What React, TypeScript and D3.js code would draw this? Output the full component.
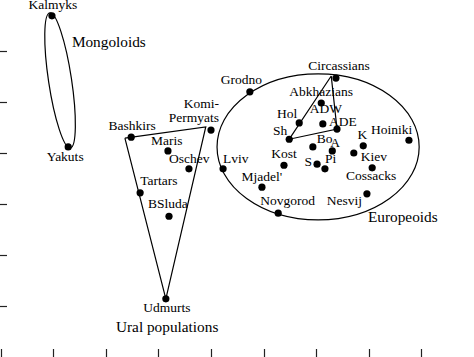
import React from "react";
import * as d3 from "d3";

// ---- data (axis units) ----
const names = [
  "Kalmyks", "Yakuts", "Bashkirs", "Komi-Permyats", "Maris", "Oschev", "Tartars", "BSluda", "Udmurts",
  "Lviv", "Grodno", "Circassians", "Abkhazians", "Hol", "ADW", "ADE", "Sh", "Bo", "A", "Kost", "S", "Pi",
  "Mjadel'", "Novgorod", "K", "Kiev", "Hoiniki", "Cossacks", "Nesvij",
];
const xValues = [
  0.97, 1.28, 2.48, 4.0, 3.18, 3.58, 2.65, 3.2, 3.14,
  4.23, 4.74, 6.38, 6.1, 5.68, 6.13, 6.4, 5.49, 5.94, 6.31, 5.39, 6.02, 6.17,
  4.97, 5.28, 6.9, 6.72, 7.77, 7.07, 6.97,
];
const yValues = [
  5.69, 3.12, 3.31, 3.45, 3.04, 2.69, 2.22, 1.76, 0.14,
  2.69, 4.2, 4.47, 3.98, 3.59, 3.57, 3.47, 3.27, 3.12, 3.04, 2.76, 2.78, 2.69,
  2.33, 1.82, 3.14, 3.0, 3.25, 2.71, 2.2,
];
const xTicks = [0, 1, 2, 3, 4, 5, 6, 7, 8];
const yTicks = [0, 1, 2, 3, 4, 5];

// group outlines
const uralPolygon: [number, number][] = [[2.36, 3.29], [3.9, 3.51], [3.14, 0.14]];
const caucasusPolygon: [number, number][] = [[6.29, 4.51], [5.49, 3.27], [6.4, 3.47]];
const groupNames = ["Mongoloids", "Ural populations", "Europeoids"];
const groupLabelX = [1.35, 2.19, 6.99];
const groupLabelY = [5.08, -0.51, 1.65];

// ---- layout / style ----
const W = 474, H = 357;
const x = d3.scaleLinear().domain([0, 9]).range([1, 473.5]);
const y = d3.scaleLinear().domain([-1, 6]).range([357, 0]);

type LP = { dx: number; dy: number; a: "start" | "middle" | "end" };
const labelPos: Record<string, LP> = {
  Kalmyks: { dx: 1, dy: -7, a: "middle" },
  Yakuts: { dx: -3, dy: 14, a: "middle" },
  Bashkirs: { dx: 1, dy: -7, a: "middle" },
  Maris: { dx: -17, dy: -6, a: "start" },
  Oschev: { dx: -20, dy: -6, a: "start" },
  Tartars: { dx: 0, dy: -8, a: "start" },
  BSluda: { dx: -21, dy: -8, a: "start" },
  Udmurts: { dx: 1, dy: 13, a: "middle" },
  Lviv: { dx: 0, dy: -6, a: "start" },
  Grodno: { dx: -29, dy: -8, a: "start" },
  Circassians: { dx: 3, dy: -8, a: "middle" },
  Abkhazians: { dx: -32, dy: -7, a: "start" },
  Hol: { dx: -2, dy: -5, a: "end" },
  ADW: { dx: -13, dy: -11, a: "start" },
  ADE: { dx: -8, dy: -3, a: "start" },
  Sh: { dx: -2, dy: -4, a: "end" },
  Bo: { dx: 4, dy: -4, a: "start" },
  A: { dx: -2, dy: -4, a: "start" },
  Kost: { dx: 0, dy: -7, a: "middle" },
  S: { dx: -5, dy: 2, a: "end" },
  Pi: { dx: 0, dy: -6, a: "start" },
  "Mjadel'": { dx: 0, dy: -6, a: "middle" },
  Novgorod: { dx: -18, dy: -8, a: "start" },
  K: { dx: -1, dy: -7, a: "middle" },
  Kiev: { dx: 7, dy: 8, a: "start" },
  Hoiniki: { dx: -38, dy: -6, a: "start" },
  Cossacks: { dx: -1, dy: 12, a: "middle" },
  Nesvij: { dx: -5, dy: 11, a: "end" },
};

const FONT = '"Liberation Serif", "DejaVu Serif", "Times New Roman", serif';
const txt = { fontFamily: FONT };

export default function App() {
  const line = d3.line<[number, number]>().x((d) => x(d[0])).y((d) => y(d[1]));
  const closed = (p: [number, number][]) => line([...p, p[0]]) || "";
  // Europeoid ellipse
  const eCx = x(6.04), eCy = y(3.12);
  const eRx = x(1.925) - x(0), eRy = y(0) - y(1.43);
  // Mongoloid ellipse (through Kalmyks / Yakuts)
  const mTop: [number, number] = [x(0.93), y(5.75)];
  const mBot: [number, number] = [x(1.32), y(3.1)];
  const mCx = (mTop[0] + mBot[0]) / 2, mCy = (mTop[1] + mBot[1]) / 2;
  const mRy = Math.hypot(mBot[0] - mTop[0], mBot[1] - mTop[1]) / 2;
  const mAng = (-Math.atan2(mBot[0] - mTop[0], mBot[1] - mTop[1]) * 180) / Math.PI;

  return (
    <svg width={W} height={H} style={{ position: "absolute", left: 0, top: 0, background: "#fff" }}>
      {/* ticks */}
      {yTicks.map((t) => (
        <line key={"yt" + t} x1={0} x2={7} y1={Math.round(y(t)) + 0.5} y2={Math.round(y(t)) + 0.5} stroke="#222" strokeWidth={1.2} />
      ))}
      {xTicks.map((t) => (
        <line key={"xt" + t} x1={Math.round(x(t)) + 0.5} x2={Math.round(x(t)) + 0.5} y1={349} y2={357} stroke="#222" strokeWidth={1.2} />
      ))}

      {/* outlines */}
      <ellipse cx={mCx} cy={mCy} rx={11.5} ry={mRy} transform={`rotate(${mAng} ${mCx} ${mCy})`} fill="none" stroke="#000" strokeWidth={1.2} />
      <ellipse cx={eCx} cy={eCy} rx={eRx} ry={eRy} fill="none" stroke="#000" strokeWidth={1.2} />
      <path d={closed(uralPolygon)} fill="none" stroke="#000" strokeWidth={1.2} />
      <path d={closed(caucasusPolygon)} fill="none" stroke="#000" strokeWidth={1.2} />

      {/* points */}
      {names.map((n, i) => (
        <circle key={"p" + n} cx={x(xValues[i])} cy={y(yValues[i])} r={3.6} fill="#000" />
      ))}

      {/* point labels */}
      {names.map((n, i) => {
        const px = x(xValues[i]), py = y(yValues[i]);
        if (n === "Komi-Permyats") {
          return (
            <text key={"l" + n} x={px + 8} y={py} textAnchor="end" fontSize={13.5} fill="#000" style={txt}>
              <tspan x={px + 8} dy={-22}>Komi-</tspan>
              <tspan x={px + 8} dy={14}>Permyats</tspan>
            </text>
          );
        }
        const lp = labelPos[n];
        return (
          <text key={"l" + n} x={px + lp.dx} y={py + lp.dy} textAnchor={lp.a} fontSize={13.5} fill="#000" style={txt}>
            {n}
          </text>
        );
      })}

      {/* group labels */}
      {groupNames.map((g, i) => (
        <text key={"g" + g} x={x(groupLabelX[i])} y={y(groupLabelY[i])} fontSize={15.3} fill="#000" style={txt}>
          {g}
        </text>
      ))}
    </svg>
  );
}
